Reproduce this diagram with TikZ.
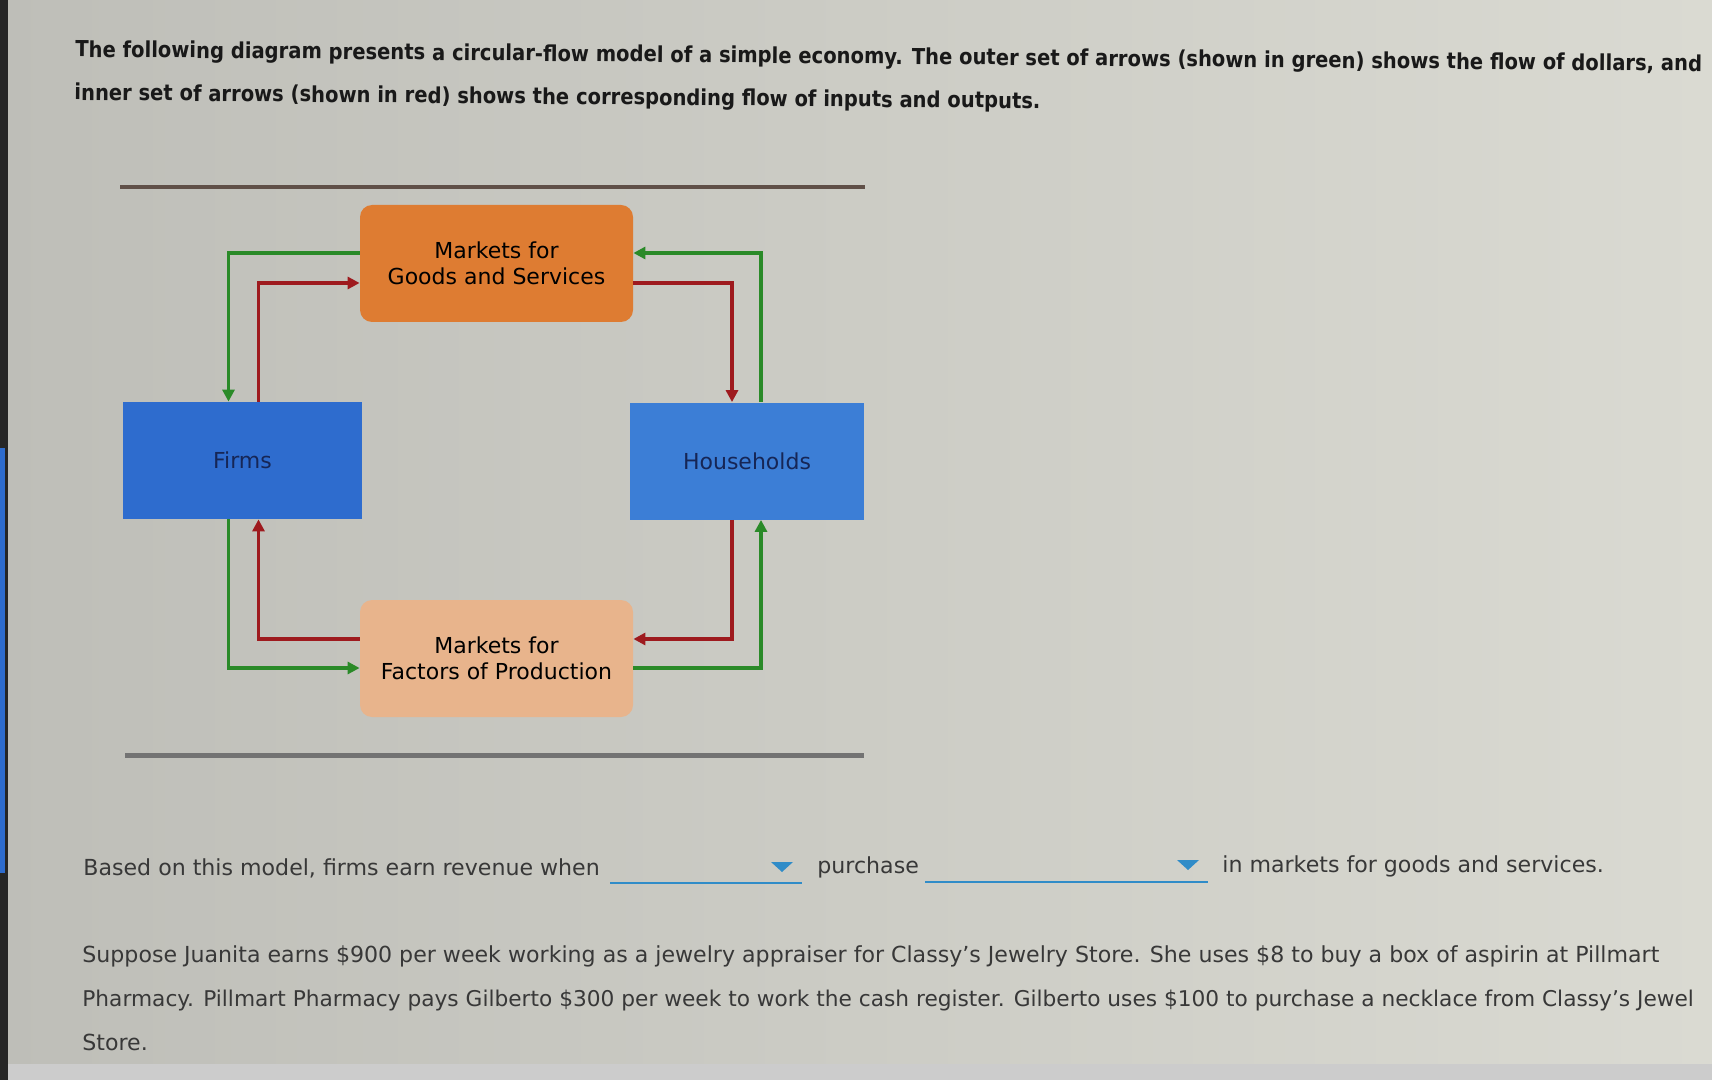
\documentclass[tikz,border=0pt]{standalone}
\usepackage{fontspec}
\setmainfont{DejaVu Sans}
\newfontfamily\headfont{DejaVu Sans}[FakeStretch=0.888]
\usetikzlibrary{arrows.meta}
\definecolor{goodsorange}{RGB}{222,124,50}
\definecolor{factorpeach}{RGB}{232,180,140}
\definecolor{firmblue}{RGB}{46,108,206}
\definecolor{hhblue}{RGB}{60,126,214}
\definecolor{moneygreen}{RGB}{42,138,40}
\definecolor{itemred}{RGB}{158,26,30}
\definecolor{dropblue}{RGB}{48,140,200}
\definecolor{bgleft}{RGB}{190,190,184}
\definecolor{bgright}{RGB}{218,218,210}
\definecolor{bodygray}{RGB}{56,56,56}
\definecolor{labelnavy}{RGB}{22,38,86}
\definecolor{ruletop}{RGB}{96,80,72}

\begin{document}
\begin{tikzpicture}[x=0.5pt, y=-0.5pt,
	>={Triangle[length=6pt,width=6pt]},
	market/.style={rounded corners=6pt, minimum width=136.5pt, minimum height=58.5pt, inner sep=0pt, align=center, font=\fontsize{11}{13}\selectfont},
	sector/.style={minimum height=58.5pt, inner sep=0pt, text=labelnavy, font=\fontsize{11}{13}\selectfont},
	dollars/.style={moneygreen, line width=1.8pt, ->},
	items/.style={itemred, line width=1.8pt, ->},
	heading/.style={anchor=base west, rotate=-0.5, font=\headfont\bfseries\fontsize{11}{13}\selectfont, text=black!90, inner sep=0pt},
	body/.style={anchor=base west, font=\fontsize{11.05}{13}\selectfont, text=bodygray, inner sep=0pt}]
	\useasboundingbox (0,0) rectangle (1712,1080);
	\shade[left color=bgleft, right color=bgright] (0,0) rectangle (1712,1080);
	\fill[gray!40] (0,1064) rectangle (1712,1080);
	\fill[black!85] (0,0) rectangle (8,1080);
	\fill[firmblue] (0,448) rectangle (5,873);

	\node[heading] (intro1) at (75,57) {The following diagram presents a circular-flow model of a simple economy. The outer set of arrows (shown in green) shows the flow of dollars, and};
	\node[heading] (intro2) at (74,100) {inner set of arrows (shown in red) shows the corresponding flow of inputs and outputs.};

	\draw[line width=2pt, ruletop] (120,187) -- (865,187);
	\draw[line width=2.5pt, gray!90!black] (125,755) -- (864,755);

	\node[market, fill=goodsorange] (goods) at (496.5,263.5) {Markets for\\Goods and Services};
	\node[market, fill=factorpeach] (factors) at (496.5,658.5) {Markets for\\Factors of Production};
	\node[sector, fill=firmblue, minimum width=119.5pt] (firms) at (242.5,460.5) {Firms};
	\node[sector, fill=hhblue, minimum width=117pt] (hh) at (747,461) {Households};

	\draw[dollars] ([yshift=5.25pt]goods.west) -| ([xshift=-7pt]firms.north);
	\draw[items] ([xshift=8pt]firms.north) |- ([yshift=-9.75pt]goods.west);
	\draw[items] ([yshift=-9.75pt]goods.east) -| ([xshift=-7.5pt]hh.north);
	\draw[dollars] ([xshift=7pt]hh.north) |- ([yshift=5.25pt]goods.east);
	\draw[dollars] ([xshift=-7pt]firms.south) |- ([yshift=-4.75pt]factors.west);
	\draw[items] ([yshift=9.75pt]factors.west) -| ([xshift=8pt]firms.south);
	\draw[items] ([xshift=-7.5pt]hh.south) |- ([yshift=9.75pt]factors.east);
	\draw[dollars] ([yshift=-4.75pt]factors.east) -| ([xshift=7pt]hh.south);

	\node[body] (ask1) at (83,875) {Based on this model, firms earn revenue when};
	\draw[dropblue, line width=1pt] (610,883) -- (802,883);
	\fill[dropblue] (771,862) -- (793,862) -- (782,872) -- cycle;
	\node[body] (ask2) at (817,873) {purchase};
	\draw[dropblue, line width=1pt] (925,882) -- (1208,882);
	\fill[dropblue] (1177,860) -- (1199,860) -- (1188,870) -- cycle;
	\node[body] (ask3) at (1222,872) {in markets for goods and services.};

	\node[body] (story1) at (82,962) {Suppose Juanita earns \$900 per week working as a jewelry appraiser for Classy's Jewelry Store. She uses \$8 to buy a box of aspirin at Pillmart};
	\node[body, font=\fontsize{10.85}{13}\selectfont] (story2) at (82,1006) {Pharmacy. Pillmart Pharmacy pays Gilberto \$300 per week to work the cash register. Gilberto uses \$100 to purchase a necklace from Classy's Jewel};
	\node[body] (story3) at (82,1050) {Store.};
\end{tikzpicture}
\end{document}
